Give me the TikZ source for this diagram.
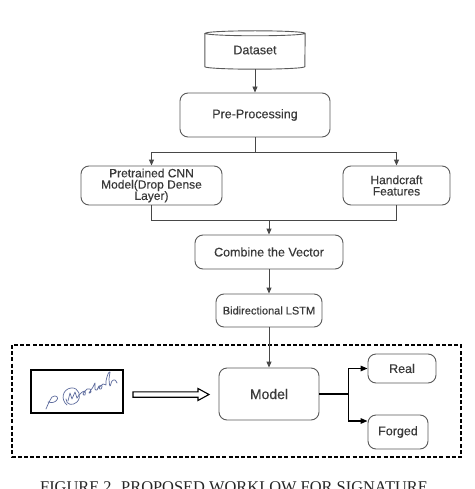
\documentclass[tikz,border=0pt]{standalone}
\usepackage{fontspec}
\usetikzlibrary{arrows.meta}
\newfontfamily\flowfont[FakeBold=0.3]{Liberation Sans}
\newfontfamily\capfont{Liberation Serif}
\definecolor{ink}{HTML}{3A3A3A}
\definecolor{edge}{HTML}{5A5A5A}
\definecolor{sigink}{HTML}{5C6A9C}
\tikzset{
  box/.style={draw=edge, line width=0.9pt, rounded corners=8pt, align=center,
    font=\flowfont\fontsize{12.5}{11.5}\selectfont, text=ink, inner sep=0pt},
  plain/.style={inner sep=0pt, align=center, font=\flowfont\fontsize{12.5}{11.5}\selectfont, text=ink},
  link/.style={draw=edge!80!black, line width=0.9pt},
  arr/.style={link, -{Triangle[length=6pt,width=5pt]}},
  branch/.style={draw=black, line width=1.4pt},
  barr/.style={branch, -{Triangle[length=7pt,width=5.5pt]}},
}
\begin{document}
\begin{tikzpicture}[x=1pt,y=-1pt]
\useasboundingbox (0,0) rectangle (474,489);
\clip (0,0) rectangle (474,489);
\fill[white] (0,0) rectangle (474,489);

% Dataset cylinder
\node[plain, minimum width=100pt, minimum height=38pt] (dataset) at (255,50) {Dataset};
\draw[draw=edge, line width=0.9pt]
  ([yshift=-2.5pt]dataset.north west) -- ([yshift=2.5pt]dataset.south west)
  arc[start angle=180, end angle=360, x radius=50pt, y radius=2.5pt]
  -- ([yshift=-2.5pt]dataset.north east)
  arc[start angle=0, end angle=180, x radius=50pt, y radius=2.5pt]
  arc[start angle=180, end angle=360, x radius=50pt, y radius=2.5pt];

\node[box, minimum width=150pt, minimum height=44pt] (pre) at (255,115) {Pre-Processing};
\node[box, minimum width=141pt, minimum height=39pt, font=\flowfont\fontsize{12}{11.3}\selectfont] (cnn) at (151.5,185.5) {Pretrained CNN\\Model(Drop Dense\\Layer)};
\node[box, minimum width=107pt, minimum height=39pt, font=\flowfont\fontsize{12}{11.3}\selectfont] (hand) at (396.5,185.5) {Handcraft\\Features};
\node[box, minimum width=148pt, minimum height=34pt] (combine) at (269,252) {Combine the Vector};
\node[box, minimum width=106pt, minimum height=33pt, font=\flowfont\fontsize{11}{12}\selectfont] (lstm) at (269,310.5) {Bidirectional LSTM};
\node[box, minimum width=100pt, minimum height=52pt, font=\flowfont\fontsize{14}{14}\selectfont] (model) at (269,394) {Model};
\node[box, minimum width=68pt, minimum height=29pt] (real) at (402,368.5) {Real};
\node[box, minimum width=60pt, minimum height=34pt] (forged) at (398,432) {Forged};

% dashed frame
\draw[black, line width=1.2pt, dash pattern=on 4pt off 2.2pt] (12,345) rectangle (461,457);

% signature image
\node[draw=black, line width=1.3pt, minimum width=92pt, minimum height=43pt, inner sep=0pt] (sig) at (77,391.5) {};
\draw[sigink, line width=0.7pt, line cap=round, line join=round]
  (46,409) .. controls (48,404) and (50,400) .. (52,397)
  .. controls (56,394) and (60,398) .. (56,401) .. controls (53,403) and (50,403) .. (48,402);
\draw[sigink, line width=0.7pt, line cap=round, line join=round]
  (67,405) .. controls (60,399) and (63,389) .. (71,388) .. controls (79,387) and (82,397) .. (77,402)
  .. controls (73,406) and (66,405) .. (66,399);
\draw[sigink, line width=0.7pt, line cap=round, line join=round]
  (68,401) -- (70,393) -- (72,399) -- (75,392) -- (77,398);
\draw[sigink, line width=0.7pt, line cap=round, line join=round] plot[smooth, tension=0.6] coordinates {
  (77,398) (81,393) (85,391) (85,395) (83,394) (87,389) (90,389) (91,392) (89,393)
  (93,387) (95,383) (95,389) (97,390) (99,386) (102,386) (101,389) (99,388) (103,384)
  (106,385) (106,381) (108,374) (110,372) (109,379) (110,386) (112,381) (115,380) (117,383)};

% hollow arrow
\draw[black, line width=1.1pt, line join=miter]
  (133,391.8) -- (198,391.8) -- (198,388.5) -- (209,394.5) -- (198,400.5) -- (198,397.2) -- (133,397.2) -- cycle;

% connectors
\draw[arr] (dataset.south) -- (pre.north);
\draw[link] (pre.south) -- ++(0,15) coordinate (split);
\draw[arr] (split) -| (cnn.north);
\draw[arr] (split) -| (hand.north);
\coordinate (merge) at (269,220);
\draw[link] (cnn.south) |- (merge);
\draw[link] (hand.south) |- (merge);
\draw[arr] (merge) -- (combine.north);
\draw[arr] (combine.south) -- (lstm.north);
\draw[arr] (lstm.south) -- (model.north);

% branch
\draw[branch] (model.east) -- ++(29,0) coordinate (fork);
\draw[barr] (fork) |- (real.west);
\draw[barr] (fork) |- ([yshift=11pt]forged.west);

% caption
\node[anchor=base, inner sep=0pt, font=\capfont\fontsize{16.4}{18}\selectfont, text=black!85] (cap) at (234,492) {FIGURE 2. PROPOSED WORKLOW FOR SIGNATURE};
\end{tikzpicture}
\end{document}
